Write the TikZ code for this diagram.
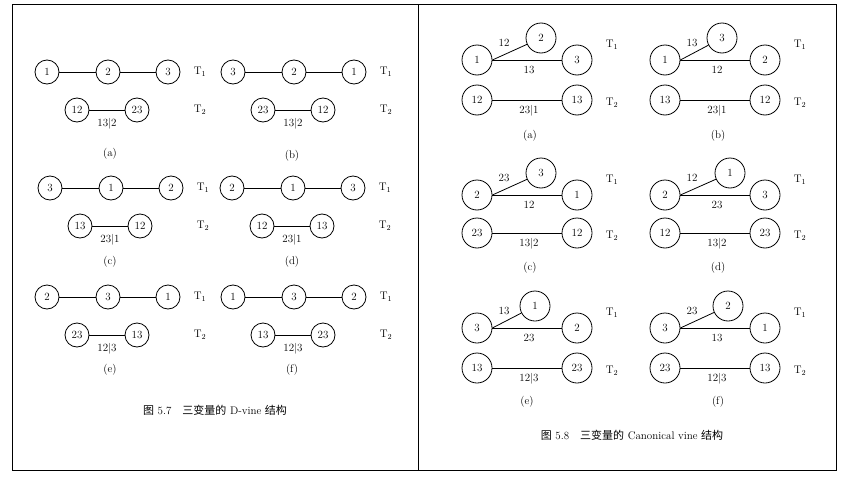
\documentclass[tikz,border=0pt]{standalone}
\usepackage{fontspec}
\newfontfamily\cjk{Noto Sans CJK SC}
\newcommand{\drow}[9]{%
  \node[vs] (#1a) at (#2,#3) {#4};
  \node[vs] (#1b) at (#2+61,#3) {#5};
  \node[vs] (#1c) at (#2+121,#3) {#6};
  \draw[ed] (#1a)--(#1b); \draw[ed] (#1b)--(#1c);
  \node[lb] (#1t) at (#2+153,#3) {T\textsubscript{1}};
  \node[vs] (#1d) at (#2+30,#3+38) {#7};
  \node[vs] (#1e) at (#2+90,#3+38) {#8};
  \draw[ed] (#1d)--(#1e);
  \node[lb] (#1l) at (#2+60,#3+52) {#9};
  \node[lb] (#1u) at (#2+153,#3+38) {T\textsubscript{2}};}
\newcommand{\cvtop}[9]{%
  \node[vb] (#1a) at (#2,#3) {#4};
  \node[vb] (#1b) at (#2+#5,#3-22) {#6};
  \node[vb] (#1c) at (#2+100,#3) {#7};
  \draw[ed] (#1a.east)--(#1b); \draw[ed] (#1a.east)--(#1c);
  \node[lb] (#1t) at (#2+135,#3-15) {T\textsubscript{1}};
  \node[lb] (#1p) at (#2+27,#3-17) {#8};
  \node[lb] (#1q) at (#2+52,#3+10) {#9};}
\newcommand{\cvbot}[6]{%
  \node[vb] (#1d) at (#2,#3) {#4};
  \node[vb] (#1e) at (#2+100,#3) {#5};
  \draw[ed] (#1d)--(#1e);
  \node[lb] (#1u) at (#2+135,#3+3) {T\textsubscript{2}};
  \node[lb] (#1l) at (#2+52,#3+11) {#6};}
\begin{document}
\begin{tikzpicture}[x=1pt,y=-1pt,
  vs/.style={circle,draw,thick,minimum size=24pt,inner sep=0pt,font=\fontsize{11}{12}\selectfont},
  vb/.style={circle,draw,thick,minimum size=30pt,inner sep=0pt,font=\fontsize{11}{12}\selectfont},
  lb/.style={font=\fontsize{11}{12}\selectfont},
  ed/.style={thick}]
\useasboundingbox (0,0) rectangle (849,479);
\draw[thick] (12,4) rectangle (836,470);
\draw[thick] (418,4) -- (418,470);
\drow{A}{47}{72}{1}{2}{3}{12}{23}{13$|$2}
\drow{B}{233}{72}{3}{2}{1}{23}{12}{13$|$2}
\drow{C}{50}{188}{3}{1}{2}{13}{12}{23$|$1}
\drow{D}{232}{188}{2}{1}{3}{12}{13}{23$|$1}
\drow{E}{47}{297}{2}{3}{1}{23}{13}{12$|$3}
\drow{F}{233}{297}{1}{3}{2}{13}{23}{12$|$3}
\node[lb] (ca) at (110,154) {(a)};
\node[lb] (cb) at (292,156) {(b)};
\node[lb] (cc) at (110,262) {(c)};
\node[lb] (cd) at (292,262) {(d)};
\node[lb] (ce) at (110,370) {(e)};
\node[lb] (cf) at (292,370) {(f)};
\node[lb] (cap1) at (215,410) {{\cjk 图} 5.7\quad{\cjk 三变量的} D-vine {\cjk 结构}};
\cvtop{P}{477}{60}{1}{64}{2}{3}{12}{13}
\cvbot{P}{477}{100}{12}{13}{23$|$1}
\cvtop{Q}{665}{60}{1}{57}{3}{2}{13}{12}
\cvbot{Q}{665}{100}{13}{12}{23$|$1}
\cvtop{R}{477}{195}{2}{64}{3}{1}{23}{12}
\cvbot{R}{477}{233}{23}{12}{13$|$2}
\cvtop{S}{665}{195}{2}{65}{1}{3}{12}{23}
\cvbot{S}{665}{233}{12}{23}{13$|$2}
\cvtop{U}{477}{328}{3}{58}{1}{2}{13}{23}
\cvbot{U}{477}{368}{13}{23}{12$|$3}
\cvtop{V}{665}{328}{3}{63}{2}{1}{23}{13}
\cvbot{V}{665}{368}{23}{13}{12$|$3}
\node[lb] (da) at (530,136) {(a)};
\node[lb] (db) at (718,136) {(b)};
\node[lb] (dc) at (530,268) {(c)};
\node[lb] (dd) at (718,268) {(d)};
\node[lb] (de) at (527,402) {(e)};
\node[lb] (df) at (718,402) {(f)};
\node[lb] (cap2) at (632,435) {{\cjk 图} 5.8\quad{\cjk 三变量的} Canonical vine {\cjk 结构}};
\end{tikzpicture}
\end{document}
